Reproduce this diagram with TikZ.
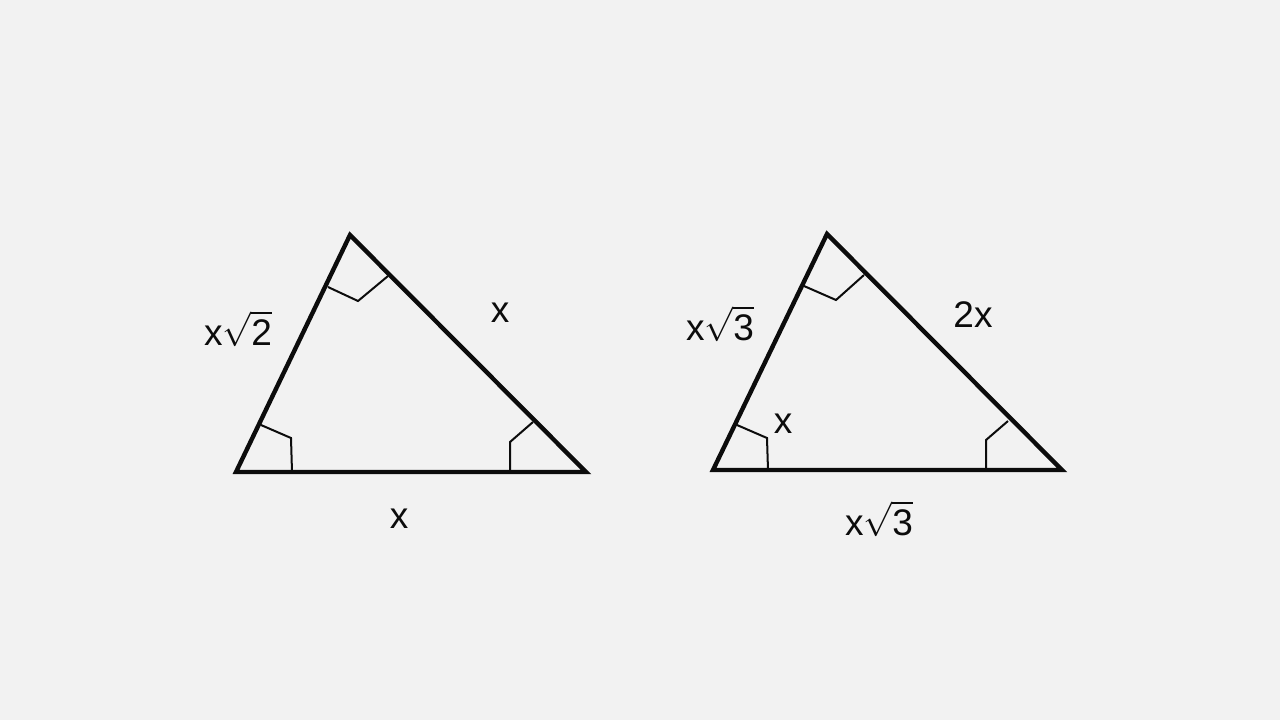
\documentclass[tikz,border=0pt]{standalone}
\usepackage{fontspec}
\setmainfont{Liberation Sans}
\definecolor{bg}{RGB}{242,242,242}
\definecolor{ink}{RGB}{12,12,12}
\newcommand{\rad}[1]{$\sqrt{\mbox{\rule{0pt}{0.8em}#1}}$}
\begin{document}
\begin{tikzpicture}[x=0.5pt,y=-0.5pt,
  tri/.style={draw=ink,line width=2.2pt,line join=miter},
  anglemark/.style={draw=ink,line width=1pt},
  lbl/.style={font=\fontsize{18.5}{20}\selectfont,text=ink,inner sep=0pt}]
\fill[bg] (0,0) rectangle (1280,720);
\useasboundingbox (0,0) rectangle (1280,720);
% triangle 1
\coordinate (A1) at (236,472);
\coordinate (B1) at (350,235);
\coordinate (C1) at (586,472);
\draw[tri] (A1) -- (B1) -- (C1) -- cycle;
\draw[anglemark] (328,287) -- (358,301) -- (388,276);
\draw[anglemark] (261,425) -- (291,438) -- (292,472);
\draw[anglemark] (533,422) -- (510,442) -- (510,472);
\node[lbl] (l1) at (238,329) {x\rad{2}};
\node[lbl] (l2) at (500,313) {x};
\node[lbl] (l3) at (399,519) {x};
% triangle 2
\coordinate (A2) at (713,470);
\coordinate (B2) at (827,234);
\coordinate (C2) at (1062,470);
\draw[tri] (A2) -- (B2) -- (C2) -- cycle;
\draw[anglemark] (804,286) -- (836,300) -- (864,275);
\draw[anglemark] (737,425) -- (767,438) -- (768,470);
\draw[anglemark] (1008,421) -- (986,440) -- (986,470);
\node[lbl] (m1) at (720,324) {x\rad{3}};
\node[lbl] (m2) at (973,315) {2x};
\node[lbl] (m3) at (783,424) {x};
\node[lbl] (m4) at (879,519) {x\rad{3}};
\end{tikzpicture}
\end{document}
